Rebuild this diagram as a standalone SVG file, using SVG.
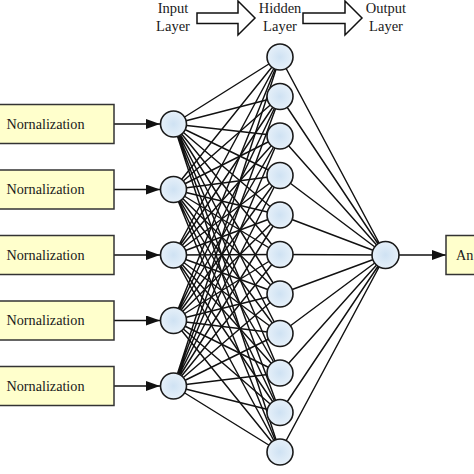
<svg xmlns="http://www.w3.org/2000/svg" width="474" height="474" viewBox="0 0 474 474">
<style>
.lbl{font-family:"Liberation Serif","Times New Roman",serif;font-size:14.5px;fill:#1a1a1a;text-anchor:middle}
.btxt{font-family:"Liberation Serif","Times New Roman",serif;font-size:14.2px;fill:#1a1a1a}
.box{fill:#ffffcc;stroke:#333;stroke-width:1.5}
.node{fill:url(#ng);stroke:#1a1a1a;stroke-width:1.6}
.blk{fill:#fff;stroke:#111;stroke-width:1.5}
.c{stroke:#111;stroke-width:1.45;fill:none}
.arr{stroke:#111;stroke-width:1.5;fill:none;marker-end:url(#ah)}
</style>
<defs>
<radialGradient id="ng" cx="50%" cy="50%" r="50%">
<stop offset="0" stop-color="#cfe2f3"/>
<stop offset="1" stop-color="#e6f0f9"/>
</radialGradient>
<marker id="ah" markerWidth="14" markerHeight="10" refX="14" refY="5" orient="auto" markerUnits="userSpaceOnUse">
<path d="M0,0 L14,5 L0,10 z" fill="#111"/>
</marker>
</defs>
<rect width="474" height="474" fill="#fff"/>
<g id="header">
<text class="lbl" x="173" y="12.5">Input</text>
<text class="lbl" x="173" y="30.5">Layer</text>
<text class="lbl" x="280" y="12.5">Hidden</text>
<text class="lbl" x="280" y="30.5">Layer</text>
<text class="lbl" x="386" y="12.5">Output</text>
<text class="lbl" x="386" y="30.5">Layer</text>
<polygon class="blk" points="197,13 238,13 238,1 255,18 238,35 238,23.5 197,23.5"/>
<polygon class="blk" points="303,13 345,13 345,1 362,18 345,35 345,23.5 303,23.5"/>
</g>
<g id="connectors">
<g class="c">
<path d="M173.5,124L280,57M173.5,124L280,96.5M173.5,124L280,136M173.5,124L280,175.5M173.5,124L280,215M173.5,124L280,254.5M173.5,124L280,294M173.5,124L280,333.5M173.5,124L280,373M173.5,124L280,412.5M173.5,124L280,452"/>
<path d="M173.5,189.5L280,57M173.5,189.5L280,96.5M173.5,189.5L280,136M173.5,189.5L280,175.5M173.5,189.5L280,215M173.5,189.5L280,254.5M173.5,189.5L280,294M173.5,189.5L280,333.5M173.5,189.5L280,373M173.5,189.5L280,412.5M173.5,189.5L280,452"/>
<path d="M173.5,255L280,57M173.5,255L280,96.5M173.5,255L280,136M173.5,255L280,175.5M173.5,255L280,215M173.5,255L280,254.5M173.5,255L280,294M173.5,255L280,333.5M173.5,255L280,373M173.5,255L280,412.5M173.5,255L280,452"/>
<path d="M173.5,320.5L280,57M173.5,320.5L280,96.5M173.5,320.5L280,136M173.5,320.5L280,175.5M173.5,320.5L280,215M173.5,320.5L280,254.5M173.5,320.5L280,294M173.5,320.5L280,333.5M173.5,320.5L280,373M173.5,320.5L280,412.5M173.5,320.5L280,452"/>
<path d="M173.5,386L280,57M173.5,386L280,96.5M173.5,386L280,136M173.5,386L280,175.5M173.5,386L280,215M173.5,386L280,254.5M173.5,386L280,294M173.5,386L280,333.5M173.5,386L280,373M173.5,386L280,412.5M173.5,386L280,452"/>
<path d="M280,57L385.5,255M280,96.5L385.5,255M280,136L385.5,255M280,175.5L385.5,255M280,215L385.5,255M280,254.5L385.5,255M280,294L385.5,255M280,333.5L385.5,255M280,373L385.5,255M280,412.5L385.5,255M280,452L385.5,255"/>
</g>
<line class="arr" x1="114" y1="124" x2="160" y2="124"/>
<line class="arr" x1="114" y1="189.5" x2="160" y2="189.5"/>
<line class="arr" x1="114" y1="255" x2="160" y2="255"/>
<line class="arr" x1="114" y1="320.5" x2="160" y2="320.5"/>
<line class="arr" x1="114" y1="386" x2="160" y2="386"/>
<line class="arr" x1="399" y1="255" x2="446" y2="255"/>
</g>
<g id="norm1"><rect class="box" x="-22" y="104.5" width="136" height="39"/><text class="btxt" x="6.5" y="128.5">Nornalization</text></g>
<g id="norm2"><rect class="box" x="-22" y="170" width="136" height="39"/><text class="btxt" x="6.5" y="194">Nornalization</text></g>
<g id="norm3"><rect class="box" x="-22" y="235.5" width="136" height="39"/><text class="btxt" x="6.5" y="259.5">Nornalization</text></g>
<g id="norm4"><rect class="box" x="-22" y="301" width="136" height="39"/><text class="btxt" x="6.5" y="325">Nornalization</text></g>
<g id="norm5"><rect class="box" x="-22" y="366.5" width="136" height="39"/><text class="btxt" x="6.5" y="390.5">Nornalization</text></g>
<g id="in1"><circle class="node" cx="173.5" cy="124" r="13"/></g>
<g id="in2"><circle class="node" cx="173.5" cy="189.5" r="13"/></g>
<g id="in3"><circle class="node" cx="173.5" cy="255" r="13"/></g>
<g id="in4"><circle class="node" cx="173.5" cy="320.5" r="13"/></g>
<g id="in5"><circle class="node" cx="173.5" cy="386" r="13"/></g>
<g id="h1"><circle class="node" cx="280" cy="57" r="13"/></g>
<g id="h2"><circle class="node" cx="280" cy="96.5" r="13"/></g>
<g id="h3"><circle class="node" cx="280" cy="136" r="13"/></g>
<g id="h4"><circle class="node" cx="280" cy="175.5" r="13"/></g>
<g id="h5"><circle class="node" cx="280" cy="215" r="13"/></g>
<g id="h6"><circle class="node" cx="280" cy="254.5" r="13"/></g>
<g id="h7"><circle class="node" cx="280" cy="294" r="13"/></g>
<g id="h8"><circle class="node" cx="280" cy="333.5" r="13"/></g>
<g id="h9"><circle class="node" cx="280" cy="373" r="13"/></g>
<g id="h10"><circle class="node" cx="280" cy="412.5" r="13"/></g>
<g id="h11"><circle class="node" cx="280" cy="452" r="13"/></g>
<g id="out"><circle class="node" cx="385.5" cy="255" r="13.5"/></g>
<g id="result"><rect class="box" x="446" y="235.5" width="60" height="39"/><text class="btxt" x="456" y="259.5">An</text></g>
</svg>
